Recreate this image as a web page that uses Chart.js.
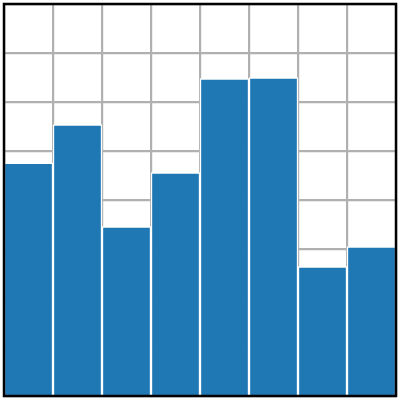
<!DOCTYPE html>
<html>
<head>
<meta charset="utf-8">
<script src="https://cdn.jsdelivr.net/npm/chart.js@4"></script>
<style>
  html, body { margin: 0; padding: 0; background: #fff; }
  #wrap { width: 400px; height: 400px; }
</style>
</head>
<body>
<div id="wrap"><canvas id="bars"></canvas></div>
<script>
// bar data
const categories = ['1', '2', '3', '4', '5', '6', '7', '8'];
const values = [4.76, 5.54, 3.46, 4.56, 6.48, 6.50, 2.64, 3.05];
const yMin = 0;
const yMax = 8;

// black frame round the plot area
const framePlugin = {
    id: 'frame',
    afterDraw(chart) {
        const { ctx, chartArea } = chart;
        ctx.save();
        ctx.strokeStyle = '#000';
        ctx.lineWidth = 2.5;
        ctx.strokeRect(chartArea.left, chartArea.top,
            chartArea.right - chartArea.left, chartArea.bottom - chartArea.top);
        ctx.restore();
    }
};

new Chart(document.getElementById('bars'), {
    type: 'bar',
    data: {
        labels: categories,
        datasets: [{
            data: values,
            backgroundColor: '#1f77b4',
            borderColor: '#ffffff',
            borderWidth: 1.5,
            barPercentage: 1,
            categoryPercentage: 1
        }]
    },
    options: {
        responsive: true,
        maintainAspectRatio: false,
        animation: false,
        layout: { padding: 4 },
        plugins: {
            legend: { display: false },
            tooltip: { enabled: false }
        },
        scales: {
            x: {
                ticks: { display: false },
                grid: { color: '#b0b0b0', lineWidth: 2.2, drawTicks: false },
                border: { display: false }
            },
            y: {
                min: yMin,
                max: yMax,
                ticks: { display: false, stepSize: 1 },
                grid: { color: '#b0b0b0', lineWidth: 2.2, drawTicks: false },
                border: { display: false }
            }
        }
    },
    plugins: [framePlugin]
});
</script>
</body>
</html>
